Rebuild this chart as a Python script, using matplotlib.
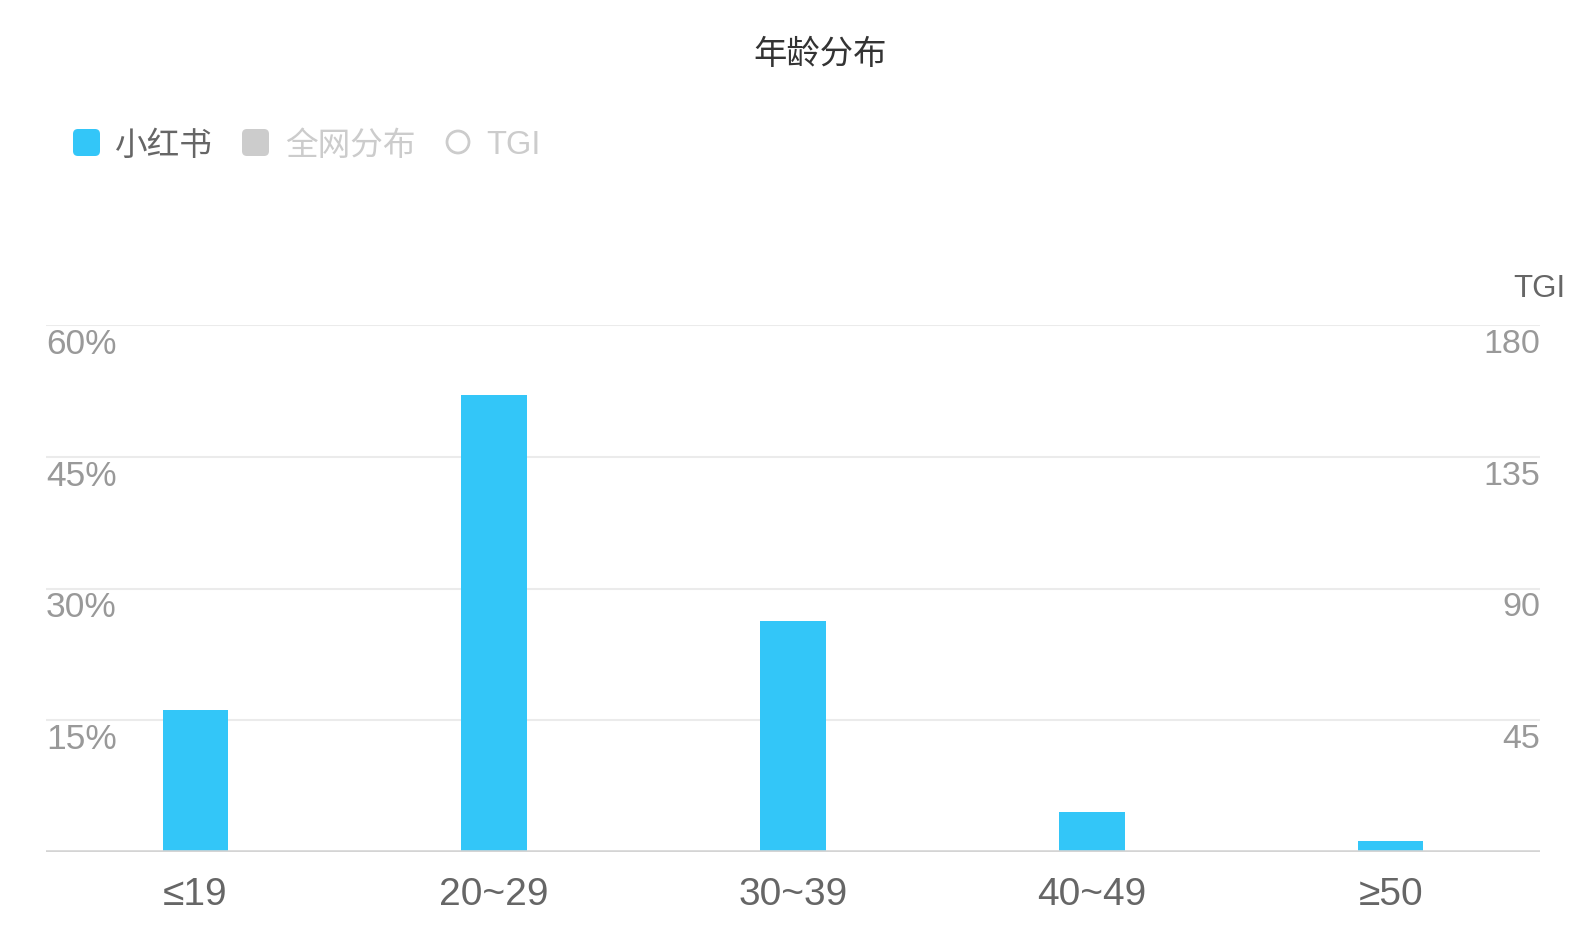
from matplotlib import pyplot as plt
from matplotlib.patches import FancyBboxPatch, Circle
from matplotlib import transforms

# --------------------------- Data ---------------------------

age_groups = ['≤19', '20~29', '30~39', '40~49', '≥50']
xhs_share = [16.2, 52.0, 26.3, 4.6, 1.2]   # 小红书, percent
pct_ticks = [15, 30, 45, 60]
tgi_ticks = [45, 90, 135, 180]
legend_names = ['小红书', '全网分布', 'TGI']

# -------------------------- Styles --------------------------

plt.rcParams['font.family'] = ['Liberation Sans', 'Noto Sans CJK SC', 'DejaVu Sans']
blue = '#33c6f8'
W, H = 1594, 934

fig = plt.figure(figsize=(W / 100, H / 100), dpi=100)
ax = fig.add_axes([46 / W, 1 - 852 / H, (1540 - 46) / W, (852 - 325) / H])

# Bars
index = list(range(len(age_groups)))
ax.bar(index, xhs_share, width=0.22, color=blue, zorder=3)
ax.set_xlim(-0.5, len(age_groups) - 0.5)
ax.set_ylim(0, 60)

# Gridlines and baseline
for v in pct_ticks:
    ax.axhline(v, color='#ebebeb', lw=1.5, zorder=1)
ax.axhline(0, color='#d4d4d4', lw=2.6, zorder=4)
for s in ax.spines.values():
    s.set_visible(False)

ax.set_yticks([])
ax.set_xticks(index)
ax.set_xticklabels(age_groups, fontsize=28, color='#666666')
ax.tick_params(axis='x', length=0, pad=18)

# Y labels sit inside the plot, just under each gridline
trans = transforms.blended_transform_factory(ax.transAxes, ax.transData)
for v in pct_ticks:
    ax.annotate('{}%'.format(v), (0, v), xycoords=trans, xytext=(0, -14),
                textcoords='offset points', ha='left', va='center',
                fontsize=25.5, color='#999999')

# Right axis (TGI)
ax2 = ax.twinx()
ax2.set_ylim(0, 180)
ax2.set_yticks([])
for s in ax2.spines.values():
    s.set_visible(False)
trans2 = transforms.blended_transform_factory(ax2.transAxes, ax2.transData)
for v in tgi_ticks:
    ax2.annotate(str(v), (1, v), xycoords=trans2, xytext=(0, -14),
                 textcoords='offset points', ha='right', va='center',
                 fontsize=24.5, color='#999999')
fig.text(1565 / W, 1 - 289 / H, 'TGI', ha='right', va='center',
         fontsize=22.5, color='#666666')

# Title
fig.text(820 / W, 1 - 55 / H, '年龄分布', ha='center', va='center',
         fontsize=24, color='#333333')

# Legend (drawn by hand, pixel coords)
lax = fig.add_axes([0, 0, 1, 1])
lax.set_xlim(0, W)
lax.set_ylim(H, 0)
lax.axis('off')
ly = 142   # marker centre
ty = 146   # text centre (CJK text sits a bit high)
lax.add_patch(FancyBboxPatch((73, ly - 13), 27, 27, boxstyle='round,pad=0,rounding_size=5',
                             facecolor=blue, edgecolor='none'))
lax.text(115, ty, legend_names[0], fontsize=23.5, color='#666666', va='center', ha='left')
lax.add_patch(FancyBboxPatch((242, ly - 13), 27, 27, boxstyle='round,pad=0,rounding_size=5',
                             facecolor='#cccccc', edgecolor='none'))
lax.text(285, ty, legend_names[1], fontsize=23.5, color='#cccccc', va='center', ha='left')
lax.add_patch(Circle((458, ly), 11, facecolor='none', edgecolor='#cccccc', lw=2))
lax.text(486, ty, legend_names[2], fontsize=23.5, color='#cccccc', va='center', ha='left')

fig.savefig('out.png', dpi=100, facecolor='white')
